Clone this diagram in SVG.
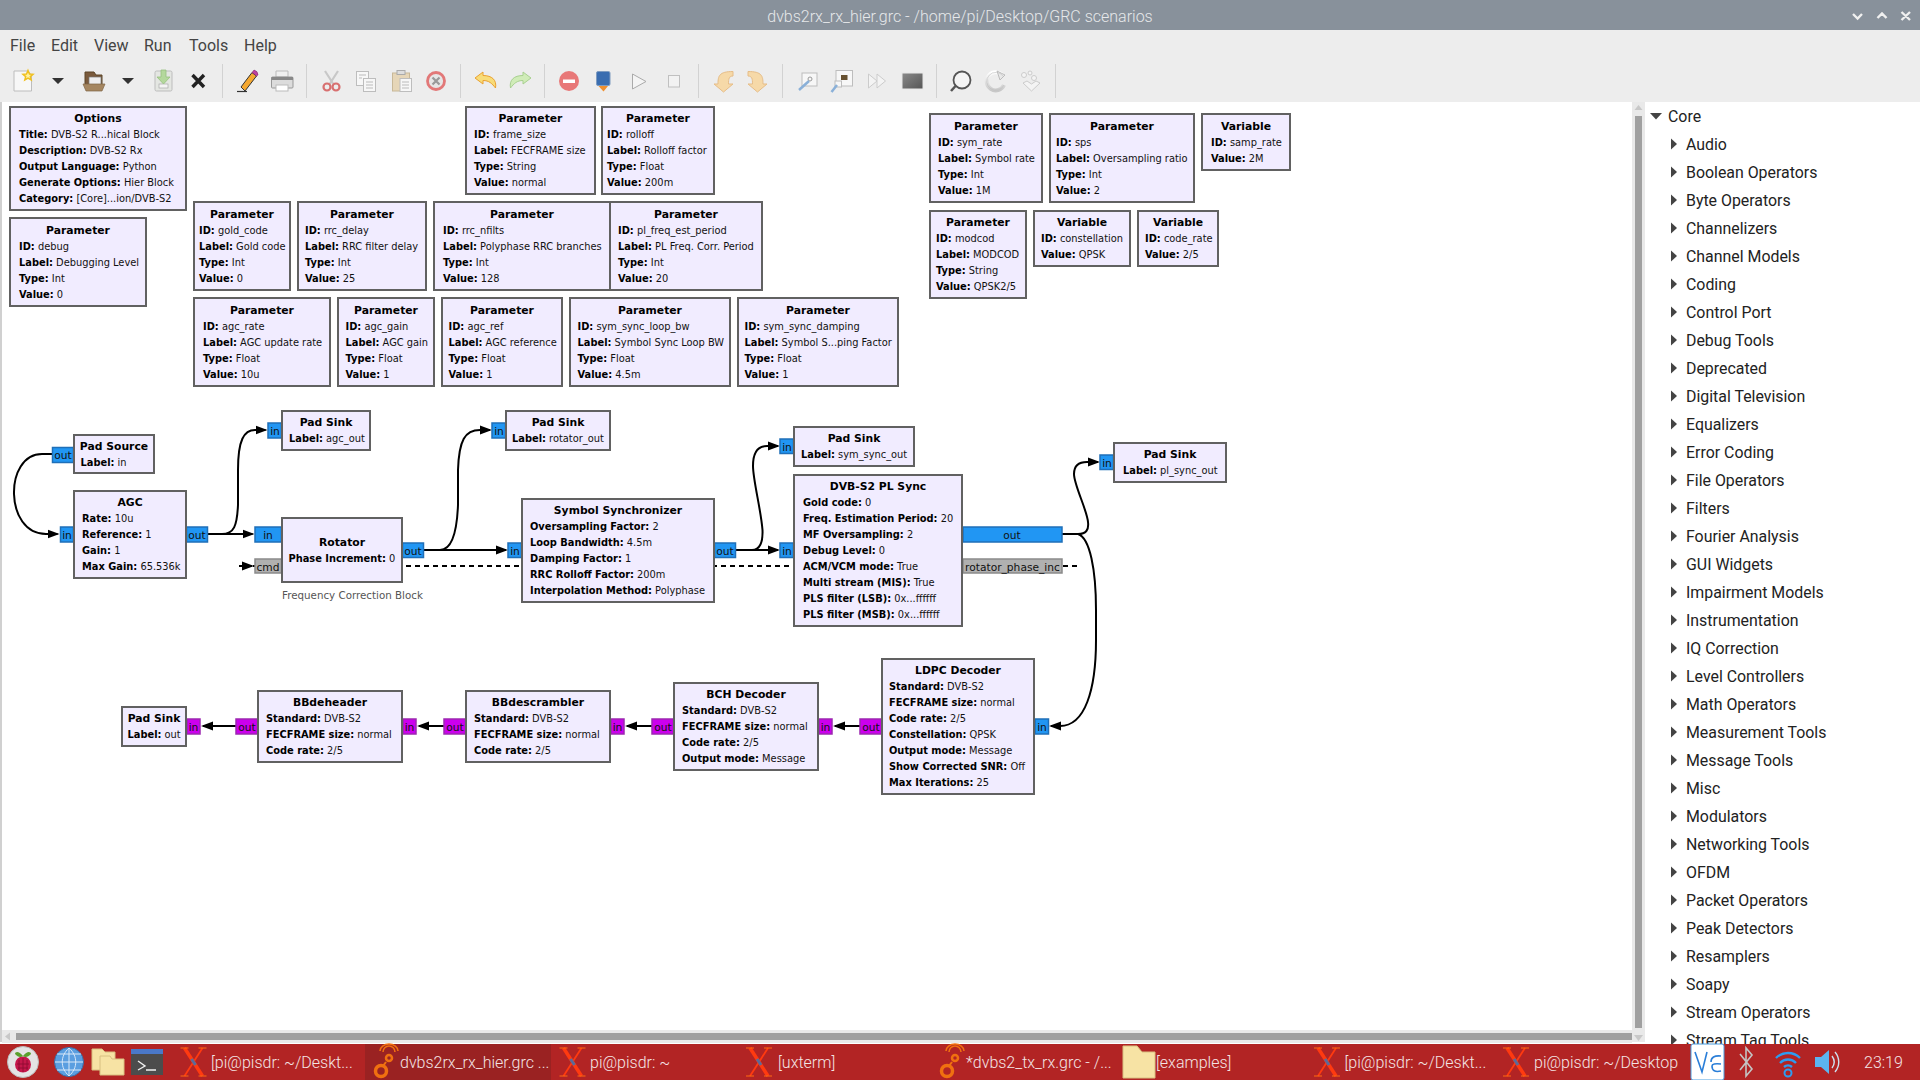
<svg xmlns="http://www.w3.org/2000/svg" xmlns:xlink="http://www.w3.org/1999/xlink" width="1920" height="1080" viewBox="0 0 1920 1080">
<style>
.n{fill:#f1ecff;stroke:#616161;stroke-width:2}
.t{font:bold 10.8px "DejaVu Sans",sans-serif;text-anchor:middle;fill:#000}
.l{font:9.85px "DejaVu Sans",sans-serif;fill:#111}
.k{font-weight:bold;fill:#000}
.pb{fill:#2196f3;stroke:#1f6fb8;stroke-width:1.5}
.pm{fill:#cc00ee;stroke:#9c27b0;stroke-width:1.5}
.pg{fill:#b0b0b0;stroke:#8a8a8a;stroke-width:1.5}
.p{font:10.67px "DejaVu Sans",sans-serif;text-anchor:middle;fill:#111}
.c{fill:none;stroke:#000;stroke-width:2}
.d{fill:none;stroke:#000;stroke-width:2;stroke-dasharray:5 4}
.m{font:16px Roboto,sans-serif;fill:#444}
.s{font:15.9px Roboto,sans-serif;fill:#222}
.b{font:300 16px Roboto,sans-serif;fill:#f4e4e4}
.sep{stroke:#d2d2d2;stroke-width:1}
.w{fill:none;stroke:#f0f0f0;stroke-width:2.4}
.tri{fill:#444}
.doc{fill:#f7f7f7;stroke:#bdbdbd}
</style>
<defs>
<marker id="a" markerUnits="userSpaceOnUse" markerWidth="12" markerHeight="10" refX="10" refY="5" orient="auto"><path d="M0,0.5 L12,5 L0,9.500 z" fill="#000"/></marker>
<linearGradient id="gi" x1="0" y1="0" x2="1" y2="1"><stop offset="0" stop-color="#8a8a8a"/><stop offset="1" stop-color="#555"/></linearGradient>
<linearGradient id="gr1" x1="0" y1="0" x2="0" y2="1"><stop offset="0" stop-color="#fff"/><stop offset="1" stop-color="#c8c8c8"/></linearGradient>
<path id="tr" class="tri" d="M0,-5.500 L6,0 L0,5.500 z"/>
<g id="xi" fill="none"><path d="M-9,-14 L9,14" stroke="#ff3a10" stroke-width="3.500"/><path d="M9,-14 L-9,14" stroke="#ff3a10" stroke-width="1.800"/><path d="M-2,-3 L2,3" stroke="#5a6a9a" stroke-width="3"/><path d="M-13,-14 H-5 M5,-14 H13 M-13,14 H-5 M5,14 H13" stroke="#ff6a10" stroke-width="1.200"/></g>
<g id="gr" fill="none" stroke="#f07010"><circle cx="-2" cy="9" r="5.500" stroke-width="3.500"/><circle cx="6" cy="-4" r="3" stroke-width="2.500"/><path d="M3,0 L0,4" stroke-width="2"/><path d="M0,-10 a6,6 0 0 1 12,0 M-3,-11 a9,7 0 0 1 18,0" stroke-width="1.600"/></g>
<g id="fo"><path d="M0,0 H14 L19,6 H32 V32 H0 z" fill="#f7e3a4" stroke="#d8c080"/></g>
</defs>

<rect width="1920" height="1080" fill="#fff"/>
<g id="titlebar">
<rect width="1920" height="30" fill="#88919b"/>
<text x="960" y="22" text-anchor="middle" style="font:300 16px Roboto,sans-serif;fill:#e6e8ea">dvbs2rx_rx_hier.grc - /home/pi/Desktop/GRC scenarios</text>
<path class="w" d="M1853,14 L1857.600,18.500 L1862,14 M1877.500,18 L1882,13.500 L1886.500,18 M1901.500,12 L1910,20 M1910,12 L1901.500,20"/>
</g>
<g id="menubar">
<rect y="30" width="1920" height="72" fill="#ededed"/>
<text class="m" x="10" y="51">File</text><text class="m" x="51" y="51">Edit</text><text class="m" x="94" y="51">View</text><text class="m" x="144" y="51">Run</text><text class="m" x="189" y="51">Tools</text><text class="m" x="244" y="51">Help</text>
</g>
<g id="toolbar">
<path d="M222.500,64 V98 M306.500,64 V98 M460.500,64 V98 M544.500,64 V98 M698.500,64 V98 M782.500,64 V98 M936.500,64 V98 M1055.500,64 V98" class="sep"/>
<path class="doc" d="M14,71 H28 L31.500,75 V91 H14 z"/><path d="M28,70.500 L29.500,74 L33,74.300 L30.300,76.600 L31.200,80 L28,78.200 L24.800,80 L25.700,76.600 L23,74.300 L26.500,74 z" fill="#fff3a0" stroke="#f0c020" stroke-width="1.500"/>
<path d="M52,78 H64 L58,84 z M122,78 H134 L128,84 z" fill="#333"/>
<path d="M85,72 H94 L96,75 H102 V86 H85 z" fill="#7a5a3c" stroke="#5c4526"/><rect x="89" y="77" width="12" height="9" fill="#eee" stroke="#777" stroke-width=".7"/><path d="M83,84 H105 L102,91 H86 z" fill="#a58660" stroke="#7f6445" stroke-width=".7"/>
<rect x="155" y="71" width="17" height="20" rx="1.500" fill="#e4e6e2" stroke="#bdbdbd"/><rect x="159" y="84" width="9" height="4" fill="#f4f4f4" stroke="#aaa" stroke-width=".7"/><path d="M161,70 H166 V77 H170 L163.500,84 L157,77 H161 z" fill="#b4d89c" stroke="#98c080" stroke-width=".8"/>
<path d="M192.500,75 L204,87 M204,75 L192.500,87" stroke="#222" stroke-width="3.400" fill="none"/>
<path d="M241,87 L252,72.500 L256.500,76 L245,91 z" fill="#f5a830" stroke="#333"/><path d="M252,72.500 L254,70 Q258,71 258,75 L256.500,76 z" fill="#c040a0" stroke="#702060" stroke-width=".5"/><path d="M237,91.500 H247" stroke="#333" stroke-width="1.200"/>
<path d="M276,71 H288 V77 H276 z" fill="#f0f0f0" stroke="#bbb"/><rect x="271.500" y="77" width="21.500" height="11" rx="1" fill="#dcdcdc" stroke="#999"/><rect x="271.500" y="77" width="21.500" height="3" fill="#888"/><rect x="276" y="85" width="12" height="6" fill="#fff" stroke="#bbb"/>
<path d="M325,71 L334,85 M338,71 L329,85" stroke="#c8c8c8" stroke-width="2.200" fill="none"/><circle cx="327" cy="87" r="3.500" fill="none" stroke="#d87070" stroke-width="2.200"/><circle cx="336" cy="87" r="3.500" fill="none" stroke="#d87070" stroke-width="2.200"/>
<rect class="doc" x="356.500" y="71.500" width="12" height="14"/><rect class="doc" x="363.500" y="78.500" width="12" height="13"/><path d="M359,75 H366 M359,78 H362 M366,82 H373 M366,85 H373 M366,88 H373" stroke="#bbb"/>
<rect x="392.500" y="73" width="17" height="18" fill="#e6d6b8" stroke="#c8b898"/><rect x="397" y="70.500" width="8" height="4" fill="#ddd" stroke="#aaa"/><rect class="doc" x="400" y="78.500" width="11.500" height="13"/><path d="M402,82 H409 M402,85 H409 M402,88 H409" stroke="#bbb"/>
<circle cx="436" cy="81" r="8.500" fill="#e6e6e6" stroke="#e27878" stroke-width="2.800"/><path d="M432.500,77.500 L439.500,84.500 M439.500,77.500 L432.500,84.500" stroke="#999" stroke-width="2.200"/>
<path d="M475,78 L483,72 V75.500 C492,75.500 497,80 495.500,88 C492,83.500 489,80.500 483,80.500 V84 z" fill="#f8dc78" stroke="#eaa030"/>
<path d="M531,78 L523,72 V75.500 C514,75.500 509,80 510.500,88 C514,83.500 517,80.500 523,80.500 V84 z" fill="#d0ecb8" stroke="#a8d090"/>
<circle cx="569" cy="81" r="10" fill="#e87878"/><rect x="563" y="79.500" width="12" height="3.500" fill="#fff"/>
<rect x="596.500" y="71.500" width="13.500" height="14" rx="1.500" fill="#3a6db0" stroke="#7f9cc0"/><path d="M598.500,86 H608 L603.500,91.500 z" fill="#f09030"/>
<path d="M632.500,74 L646,81.500 L632.500,89 z" fill="#f4f4f4" stroke="#aaa"/>
<rect x="668.500" y="75.500" width="11" height="11.500" fill="#f2f2f2" stroke="#c0c0c0"/>
<path d="M733,71.500 C719,71.500 718,76 718,84 H714 L723.500,92 L733,84 H728.500 C728.500,79 729,76 733,76 z" fill="#f6d9a8" stroke="#e6bd88"/>
<path d="M748,71.500 C762,71.500 763,76 763,84 H767 L757.500,92 L748,84 H752.500 C752.500,79 752,76 748,76 z" fill="#f6d9a8" stroke="#e6bd88"/>
<rect class="doc" x="802" y="73" width="15" height="13"/><circle cx="810" cy="79" r="2" fill="none" stroke="#999"/><path d="M809,81 L799,90" stroke="#8ab0d8" stroke-width="2.500"/>
<rect class="doc" x="836" y="70.500" width="16.500" height="15.500"/><rect x="841" y="75" width="6.500" height="5" fill="#665030"/><rect class="doc" x="835" y="81" width="6.500" height="6"/><path d="M837,85 L831.500,92" stroke="#8ab0d8" stroke-width="2.500"/>
<path d="M868.500,74 L877,81 L868.500,88 z M877,74 L885.500,81 L877,88 z" fill="#f4f4f4" stroke="#ccc"/>
<rect x="902" y="73" width="21" height="16" fill="url(#gi)" stroke="#e8e8e8"/>
<circle cx="962" cy="80" r="8.500" fill="#f4f4f4" stroke="#555" stroke-width="1.800"/><path d="M951,91 L956,85.500" stroke="#555" stroke-width="2.500"/>
<path d="M1003,76 A9,9 0 1 0 1004,85" fill="none" stroke="url(#gr1)" stroke-width="4"/><path d="M997,71 L1005,75 L1000,80 z" fill="#e8e8e8" stroke="#bbb"/><path d="M1003,76 A9,9 0 1 0 1004,85" fill="none" stroke="#c0c0c0" stroke-width=".6"/>
<circle cx="1024" cy="75" r="2.500" fill="#f4f4f4" stroke="#ccc"/><circle cx="1030" cy="73" r="2" fill="#f4f4f4" stroke="#ccc"/><circle cx="1034" cy="78" r="2.500" fill="#f4f4f4" stroke="#ccc"/><path d="M1023,83 L1027,81 L1031.500,84 L1036,81 L1040,83 L1031.500,91 z" fill="#f4f4f4" stroke="#ccc"/>
</g>
<rect x="0" y="102" width="2" height="940" fill="#d0d0d0"/>

<g id="connectors">
<path class="d" d="M1077,566 H243"/>
<path class="c" marker-end="url(#a)" d="M239,566 H252"/>
<path class="c" marker-end="url(#a)" d="M52,454 H42 C4,454 4,534 46,534 H57.500"/>
<path class="c" marker-end="url(#a)" d="M208,534 H222 C234,534 237,526 238,505 V470 C238,440 244,430 255,430 H265.500"/>
<path class="c" marker-end="url(#a)" d="M208,534 H252.500"/>
<path class="c" marker-end="url(#a)" d="M424,550 H440 C452,550 457,530 458,505 V470 C459,440 465,430 480,430 H490"/>
<path class="c" marker-end="url(#a)" d="M424,550 H506"/>
<path class="c" marker-end="url(#a)" d="M736,550 H752 C760,550 763,542 762.500,530 C761,510 753,480 753,466 C753,452 758,446 767,446 H778"/>
<path class="c" marker-end="url(#a)" d="M736,550 H778"/>
<path class="c" marker-end="url(#a)" d="M1062,534 H1078 C1086,534 1089,530 1088,522 C1087,510 1074,485 1074,474 C1074,465 1080,462 1087,462 H1098"/>
<path class="c" marker-end="url(#a)" d="M1078,534 C1090,538 1096,570 1096,610 V640 C1096,690 1085,726 1060,726 H1051"/>
<path class="c" marker-end="url(#a)" d="M860,726 H835"/>
<path class="c" marker-end="url(#a)" d="M652,726 H627"/>
<path class="c" marker-end="url(#a)" d="M444,726 H419"/>
<path class="c" marker-end="url(#a)" d="M236,726 H203"/>
</g>

<g id="options"><rect class="n" x="10" y="107" width="176" height="103"/><text class="t" x="98" y="122">Options</text>
<text class="l" x="19" y="138"><tspan class="k">Title:</tspan> DVB-S2 R...hical Block</text><text class="l" x="19" y="154"><tspan class="k">Description:</tspan> DVB-S2 Rx</text><text class="l" x="19" y="170"><tspan class="k">Output Language:</tspan> Python</text><text class="l" x="19" y="186"><tspan class="k">Generate Options:</tspan> Hier Block</text><text class="l" x="19" y="202"><tspan class="k">Category:</tspan> [Core]...ion/DVB-S2</text></g>
<g id="p_frame_size"><rect class="n" x="466" y="107" width="129" height="87"/><text class="t" x="530.500" y="122">Parameter</text>
<text class="l" x="474" y="138"><tspan class="k">ID:</tspan> frame_size</text><text class="l" x="474" y="154"><tspan class="k">Label:</tspan> FECFRAME size</text><text class="l" x="474" y="170"><tspan class="k">Type:</tspan> String</text><text class="l" x="474" y="186"><tspan class="k">Value:</tspan> normal</text></g>
<g id="p_rolloff"><rect class="n" x="602" y="107" width="112" height="87"/><text class="t" x="658" y="122">Parameter</text>
<text class="l" x="607" y="138"><tspan class="k">ID:</tspan> rolloff</text><text class="l" x="607" y="154"><tspan class="k">Label:</tspan> Rolloff factor</text><text class="l" x="607" y="170"><tspan class="k">Type:</tspan> Float</text><text class="l" x="607" y="186"><tspan class="k">Value:</tspan> 200m</text></g>
<g id="p_gold_code"><rect class="n" x="194" y="202" width="96" height="88"/><text class="t" x="242" y="218">Parameter</text>
<text class="l" x="199" y="234"><tspan class="k">ID:</tspan> gold_code</text><text class="l" x="199" y="250"><tspan class="k">Label:</tspan> Gold code</text><text class="l" x="199" y="266"><tspan class="k">Type:</tspan> Int</text><text class="l" x="199" y="282"><tspan class="k">Value:</tspan> 0</text></g>
<g id="p_rrc_delay"><rect class="n" x="298" y="202" width="128" height="88"/><text class="t" x="362" y="218">Parameter</text>
<text class="l" x="305" y="234"><tspan class="k">ID:</tspan> rrc_delay</text><text class="l" x="305" y="250"><tspan class="k">Label:</tspan> RRC filter delay</text><text class="l" x="305" y="266"><tspan class="k">Type:</tspan> Int</text><text class="l" x="305" y="282"><tspan class="k">Value:</tspan> 25</text></g>
<g id="p_rrc_nfilts"><rect class="n" x="434" y="202" width="176" height="88"/><text class="t" x="522" y="218">Parameter</text>
<text class="l" x="443" y="234"><tspan class="k">ID:</tspan> rrc_nfilts</text><text class="l" x="443" y="250"><tspan class="k">Label:</tspan> Polyphase RRC branches</text><text class="l" x="443" y="266"><tspan class="k">Type:</tspan> Int</text><text class="l" x="443" y="282"><tspan class="k">Value:</tspan> 128</text></g>
<g id="p_pl_freq_est_period"><rect class="n" x="610" y="202" width="152" height="88"/><text class="t" x="686" y="218">Parameter</text>
<text class="l" x="618" y="234"><tspan class="k">ID:</tspan> pl_freq_est_period</text><text class="l" x="618" y="250"><tspan class="k">Label:</tspan> PL Freq. Corr. Period</text><text class="l" x="618" y="266"><tspan class="k">Type:</tspan> Int</text><text class="l" x="618" y="282"><tspan class="k">Value:</tspan> 20</text></g>
<g id="p_debug"><rect class="n" x="10" y="218" width="136" height="88"/><text class="t" x="78" y="234">Parameter</text>
<text class="l" x="19" y="250"><tspan class="k">ID:</tspan> debug</text><text class="l" x="19" y="266"><tspan class="k">Label:</tspan> Debugging Level</text><text class="l" x="19" y="282"><tspan class="k">Type:</tspan> Int</text><text class="l" x="19" y="298"><tspan class="k">Value:</tspan> 0</text></g>
<g id="p_agc_rate"><rect class="n" x="194" y="298" width="136" height="88"/><text class="t" x="262" y="314">Parameter</text>
<text class="l" x="203" y="330"><tspan class="k">ID:</tspan> agc_rate</text><text class="l" x="203" y="346"><tspan class="k">Label:</tspan> AGC update rate</text><text class="l" x="203" y="362"><tspan class="k">Type:</tspan> Float</text><text class="l" x="203" y="378"><tspan class="k">Value:</tspan> 10u</text></g>
<g id="p_agc_gain"><rect class="n" x="338" y="298" width="96" height="88"/><text class="t" x="386" y="314">Parameter</text>
<text class="l" x="345.500" y="330"><tspan class="k">ID:</tspan> agc_gain</text><text class="l" x="345.500" y="346"><tspan class="k">Label:</tspan> AGC gain</text><text class="l" x="345.500" y="362"><tspan class="k">Type:</tspan> Float</text><text class="l" x="345.500" y="378"><tspan class="k">Value:</tspan> 1</text></g>
<g id="p_agc_ref"><rect class="n" x="442" y="298" width="120" height="88"/><text class="t" x="502" y="314">Parameter</text>
<text class="l" x="448.500" y="330"><tspan class="k">ID:</tspan> agc_ref</text><text class="l" x="448.500" y="346"><tspan class="k">Label:</tspan> AGC reference</text><text class="l" x="448.500" y="362"><tspan class="k">Type:</tspan> Float</text><text class="l" x="448.500" y="378"><tspan class="k">Value:</tspan> 1</text></g>
<g id="p_sym_sync_loop_bw"><rect class="n" x="570" y="298" width="160" height="88"/><text class="t" x="650" y="314">Parameter</text>
<text class="l" x="577.500" y="330"><tspan class="k">ID:</tspan> sym_sync_loop_bw</text><text class="l" x="577.500" y="346"><tspan class="k">Label:</tspan> Symbol Sync Loop BW</text><text class="l" x="577.500" y="362"><tspan class="k">Type:</tspan> Float</text><text class="l" x="577.500" y="378"><tspan class="k">Value:</tspan> 4.5m</text></g>
<g id="p_sym_sync_damping"><rect class="n" x="738" y="298" width="160" height="88"/><text class="t" x="818" y="314">Parameter</text>
<text class="l" x="744.500" y="330"><tspan class="k">ID:</tspan> sym_sync_damping</text><text class="l" x="744.500" y="346"><tspan class="k">Label:</tspan> Symbol S...ping Factor</text><text class="l" x="744.500" y="362"><tspan class="k">Type:</tspan> Float</text><text class="l" x="744.500" y="378"><tspan class="k">Value:</tspan> 1</text></g>
<g id="p_sym_rate"><rect class="n" x="930" y="114" width="112" height="88"/><text class="t" x="986" y="130">Parameter</text>
<text class="l" x="938" y="146"><tspan class="k">ID:</tspan> sym_rate</text><text class="l" x="938" y="162"><tspan class="k">Label:</tspan> Symbol rate</text><text class="l" x="938" y="178"><tspan class="k">Type:</tspan> Int</text><text class="l" x="938" y="194"><tspan class="k">Value:</tspan> 1M</text></g>
<g id="p_sps"><rect class="n" x="1050" y="114" width="144" height="88"/><text class="t" x="1122" y="130">Parameter</text>
<text class="l" x="1056" y="146"><tspan class="k">ID:</tspan> sps</text><text class="l" x="1056" y="162"><tspan class="k">Label:</tspan> Oversampling ratio</text><text class="l" x="1056" y="178"><tspan class="k">Type:</tspan> Int</text><text class="l" x="1056" y="194"><tspan class="k">Value:</tspan> 2</text></g>
<g id="v_samp_rate"><rect class="n" x="1202" y="114" width="88" height="56"/><text class="t" x="1246" y="130">Variable</text>
<text class="l" x="1211" y="146"><tspan class="k">ID:</tspan> samp_rate</text><text class="l" x="1211" y="162"><tspan class="k">Value:</tspan> 2M</text></g>
<g id="p_modcod"><rect class="n" x="930" y="211" width="96" height="87"/><text class="t" x="978" y="226">Parameter</text>
<text class="l" x="936" y="242"><tspan class="k">ID:</tspan> modcod</text><text class="l" x="936" y="258"><tspan class="k">Label:</tspan> MODCOD</text><text class="l" x="936" y="274"><tspan class="k">Type:</tspan> String</text><text class="l" x="936" y="290"><tspan class="k">Value:</tspan> QPSK2/5</text></g>
<g id="v_constellation"><rect class="n" x="1034" y="211" width="96" height="55"/><text class="t" x="1082" y="226">Variable</text>
<text class="l" x="1041" y="242"><tspan class="k">ID:</tspan> constellation</text><text class="l" x="1041" y="258"><tspan class="k">Value:</tspan> QPSK</text></g>
<g id="v_code_rate"><rect class="n" x="1138" y="211" width="80" height="55"/><text class="t" x="1178" y="226">Variable</text>
<text class="l" x="1145" y="242"><tspan class="k">ID:</tspan> code_rate</text><text class="l" x="1145" y="258"><tspan class="k">Value:</tspan> 2/5</text></g>

<g id="pad_source"><rect class="pb" x="52.500" y="447.500" width="21" height="15"/><text class="p" x="63" y="459">out</text><rect class="n" x="74" y="435" width="80" height="38"/><text class="t" x="114" y="450">Pad Source</text><text class="l" x="80.500" y="466"><tspan class="k">Label:</tspan> in</text></g>
<g id="agc"><rect class="pb" x="60.500" y="527" width="13" height="15"/><text class="p" x="67" y="539">in</text><rect class="pb" x="186.500" y="527" width="21" height="15"/><text class="p" x="197" y="539">out</text><rect class="n" x="74" y="491" width="112" height="87"/><text class="t" x="130" y="506">AGC</text>
<text class="l" x="82" y="522"><tspan class="k">Rate:</tspan> 10u</text><text class="l" x="82" y="538"><tspan class="k">Reference:</tspan> 1</text><text class="l" x="82" y="554"><tspan class="k">Gain:</tspan> 1</text><text class="l" x="82" y="570"><tspan class="k">Max Gain:</tspan> 65.536k</text></g>
<g id="pad_sink_agc_out"><rect class="pb" x="268" y="423" width="13.500" height="15"/><text class="p" x="275" y="435">in</text><rect class="n" x="282" y="411" width="88" height="39"/><text class="t" x="326" y="426">Pad Sink</text><text class="l" x="289" y="442"><tspan class="k">Label:</tspan> agc_out</text></g>
<g id="rotator"><rect class="pb" x="255" y="527" width="26.500" height="15"/><text class="p" x="268" y="539">in</text><rect class="pg" x="255" y="559" width="26.500" height="14"/><text class="p" x="268" y="571">cmd</text><rect class="pb" x="402.500" y="543" width="21" height="14.500"/><text class="p" x="413" y="555">out</text><rect class="n" x="282" y="518" width="120" height="64"/><text class="t" x="342" y="546">Rotator</text><text class="l" x="288.500" y="562"><tspan class="k">Phase Increment:</tspan> 0</text></g>
<text id="rotator_comment" x="282" y="599" style="font:10.3px 'DejaVu Sans',sans-serif;fill:#555">Frequency Correction Block</text>
<g id="pad_sink_rotator_out"><rect class="pb" x="492" y="423" width="13.500" height="15"/><text class="p" x="499" y="435">in</text><rect class="n" x="506" y="411" width="104" height="39"/><text class="t" x="558" y="426">Pad Sink</text><text class="l" x="512" y="442"><tspan class="k">Label:</tspan> rotator_out</text></g>
<g id="symbol_sync"><rect class="pb" x="508" y="543" width="13.500" height="14.500"/><text class="p" x="515" y="555">in</text><rect class="pb" x="714.500" y="543" width="21" height="14.500"/><text class="p" x="725" y="555">out</text><rect class="n" x="522" y="499" width="192" height="103"/><text class="t" x="618" y="514">Symbol Synchronizer</text>
<text class="l" x="530" y="530"><tspan class="k">Oversampling Factor:</tspan> 2</text><text class="l" x="530" y="546"><tspan class="k">Loop Bandwidth:</tspan> 4.5m</text><text class="l" x="530" y="562"><tspan class="k">Damping Factor:</tspan> 1</text><text class="l" x="530" y="578"><tspan class="k">RRC Rolloff Factor:</tspan> 200m</text><text class="l" x="530" y="594"><tspan class="k">Interpolation Method:</tspan> Polyphase</text></g>
<g id="pad_sink_sym_sync_out"><rect class="pb" x="780" y="439" width="13.500" height="14.500"/><text class="p" x="787" y="451">in</text><rect class="n" x="794" y="427" width="120" height="39"/><text class="t" x="854" y="442">Pad Sink</text><text class="l" x="801" y="458"><tspan class="k">Label:</tspan> sym_sync_out</text></g>
<g id="pl_sync"><rect class="pb" x="780" y="543" width="13.500" height="14.500"/><text class="p" x="787" y="555">in</text><rect class="pb" x="963" y="527" width="99" height="15"/><text class="p" x="1012" y="539">out</text><rect class="pg" x="963" y="559" width="99" height="14"/><text class="p" x="1012.500" y="571">rotator_phase_inc</text><rect class="n" x="794" y="475" width="168" height="151"/><text class="t" x="878" y="490">DVB-S2 PL Sync</text>
<text class="l" x="803" y="506"><tspan class="k">Gold code:</tspan> 0</text><text class="l" x="803" y="522"><tspan class="k">Freq. Estimation Period:</tspan> 20</text><text class="l" x="803" y="538"><tspan class="k">MF Oversampling:</tspan> 2</text><text class="l" x="803" y="554"><tspan class="k">Debug Level:</tspan> 0</text><text class="l" x="803" y="570"><tspan class="k">ACM/VCM mode:</tspan> True</text><text class="l" x="803" y="586"><tspan class="k">Multi stream (MIS):</tspan> True</text><text class="l" x="803" y="602"><tspan class="k">PLS filter (LSB):</tspan> 0x...ffffff</text><text class="l" x="803" y="618"><tspan class="k">PLS filter (MSB):</tspan> 0x...ffffff</text></g>
<g id="pad_sink_pl_sync_out"><rect class="pb" x="1100" y="455" width="13.500" height="14.500"/><text class="p" x="1107" y="467">in</text><rect class="n" x="1114" y="443" width="112" height="39"/><text class="t" x="1170" y="458">Pad Sink</text><text class="l" x="1123" y="474"><tspan class="k">Label:</tspan> pl_sync_out</text></g>
<g id="ldpc"><rect class="pb" x="1035" y="719" width="13.500" height="15"/><text class="p" x="1042" y="731">in</text><rect class="pm" x="860" y="719" width="21.500" height="15"/><text class="p" x="871" y="731">out</text><rect class="n" x="882" y="659" width="152" height="135"/><text class="t" x="958" y="674">LDPC Decoder</text>
<text class="l" x="889" y="690"><tspan class="k">Standard:</tspan> DVB-S2</text><text class="l" x="889" y="706"><tspan class="k">FECFRAME size:</tspan> normal</text><text class="l" x="889" y="722"><tspan class="k">Code rate:</tspan> 2/5</text><text class="l" x="889" y="738"><tspan class="k">Constellation:</tspan> QPSK</text><text class="l" x="889" y="754"><tspan class="k">Output mode:</tspan> Message</text><text class="l" x="889" y="770"><tspan class="k">Show Corrected SNR:</tspan> Off</text><text class="l" x="889" y="786"><tspan class="k">Max Iterations:</tspan> 25</text></g>
<g id="bch"><rect class="pm" x="819" y="719" width="13" height="15"/><text class="p" x="825.500" y="731">in</text><rect class="pm" x="652" y="719" width="21.500" height="15"/><text class="p" x="663" y="731">out</text><rect class="n" x="674" y="683" width="144" height="87"/><text class="t" x="746" y="698">BCH Decoder</text>
<text class="l" x="682" y="714"><tspan class="k">Standard:</tspan> DVB-S2</text><text class="l" x="682" y="730"><tspan class="k">FECFRAME size:</tspan> normal</text><text class="l" x="682" y="746"><tspan class="k">Code rate:</tspan> 2/5</text><text class="l" x="682" y="762"><tspan class="k">Output mode:</tspan> Message</text></g>
<g id="bbdescrambler"><rect class="pm" x="611" y="719" width="13" height="15"/><text class="p" x="617.500" y="731">in</text><rect class="pm" x="444" y="719" width="21.500" height="15"/><text class="p" x="455" y="731">out</text><rect class="n" x="466" y="691" width="144" height="71"/><text class="t" x="538" y="706">BBdescrambler</text>
<text class="l" x="474" y="722"><tspan class="k">Standard:</tspan> DVB-S2</text><text class="l" x="474" y="738"><tspan class="k">FECFRAME size:</tspan> normal</text><text class="l" x="474" y="754"><tspan class="k">Code rate:</tspan> 2/5</text></g>
<g id="bbdeheader"><rect class="pm" x="403" y="719" width="13" height="15"/><text class="p" x="409.500" y="731">in</text><rect class="pm" x="236" y="719" width="21.500" height="15"/><text class="p" x="247" y="731">out</text><rect class="n" x="258" y="691" width="144" height="71"/><text class="t" x="330" y="706">BBdeheader</text>
<text class="l" x="266" y="722"><tspan class="k">Standard:</tspan> DVB-S2</text><text class="l" x="266" y="738"><tspan class="k">FECFRAME size:</tspan> normal</text><text class="l" x="266" y="754"><tspan class="k">Code rate:</tspan> 2/5</text></g>
<g id="pad_sink_out"><rect class="pm" x="187" y="719" width="13" height="15"/><text class="p" x="193.500" y="731">in</text><rect class="n" x="122" y="707" width="64" height="39"/><text class="t" x="154" y="722">Pad Sink</text><text class="l" x="127.500" y="738"><tspan class="k">Label:</tspan> out</text></g>

<g id="scrollbars">
<rect x="1632" y="102" width="13" height="940" fill="#e9e9e9"/>
<path d="M1638.500,105 L1642.500,110 H1634.500 z" fill="#c8c8c8"/>
<rect x="1635" y="116" width="7" height="912" fill="#a0a0a0"/>
<rect x="2" y="1030" width="1630" height="13" fill="#e9e9e9"/>
<rect x="16" y="1033" width="1616" height="7" fill="#a0a0a0"/>
<path d="M5,1036.500 L10,1032.500 V1040.500 z" fill="#c8c8c8"/>
<path d="M1638.500,1041 L1634,1035 H1643 z" fill="#c8c8c8"/>
</g>
<g id="sidebar">
<rect x="1645" y="102" width="275" height="942" fill="#fff"/>
<path d="M1650,113 H1662 L1656,119.500 z" fill="#444"/>
<text class="s" x="1668" y="122">Core</text>
<use href="#tr" x="1671" y="144"/><text class="s" x="1686" y="150">Audio</text>
<use href="#tr" x="1671" y="172"/><text class="s" x="1686" y="178">Boolean Operators</text>
<use href="#tr" x="1671" y="200"/><text class="s" x="1686" y="206">Byte Operators</text>
<use href="#tr" x="1671" y="228"/><text class="s" x="1686" y="234">Channelizers</text>
<use href="#tr" x="1671" y="256"/><text class="s" x="1686" y="262">Channel Models</text>
<use href="#tr" x="1671" y="284"/><text class="s" x="1686" y="290">Coding</text>
<use href="#tr" x="1671" y="312"/><text class="s" x="1686" y="318">Control Port</text>
<use href="#tr" x="1671" y="340"/><text class="s" x="1686" y="346">Debug Tools</text>
<use href="#tr" x="1671" y="368"/><text class="s" x="1686" y="374">Deprecated</text>
<use href="#tr" x="1671" y="396"/><text class="s" x="1686" y="402">Digital Television</text>
<use href="#tr" x="1671" y="424"/><text class="s" x="1686" y="430">Equalizers</text>
<use href="#tr" x="1671" y="452"/><text class="s" x="1686" y="458">Error Coding</text>
<use href="#tr" x="1671" y="480"/><text class="s" x="1686" y="486">File Operators</text>
<use href="#tr" x="1671" y="508"/><text class="s" x="1686" y="514">Filters</text>
<use href="#tr" x="1671" y="536"/><text class="s" x="1686" y="542">Fourier Analysis</text>
<use href="#tr" x="1671" y="564"/><text class="s" x="1686" y="570">GUI Widgets</text>
<use href="#tr" x="1671" y="592"/><text class="s" x="1686" y="598">Impairment Models</text>
<use href="#tr" x="1671" y="620"/><text class="s" x="1686" y="626">Instrumentation</text>
<use href="#tr" x="1671" y="648"/><text class="s" x="1686" y="654">IQ Correction</text>
<use href="#tr" x="1671" y="676"/><text class="s" x="1686" y="682">Level Controllers</text>
<use href="#tr" x="1671" y="704"/><text class="s" x="1686" y="710">Math Operators</text>
<use href="#tr" x="1671" y="732"/><text class="s" x="1686" y="738">Measurement Tools</text>
<use href="#tr" x="1671" y="760"/><text class="s" x="1686" y="766">Message Tools</text>
<use href="#tr" x="1671" y="788"/><text class="s" x="1686" y="794">Misc</text>
<use href="#tr" x="1671" y="816"/><text class="s" x="1686" y="822">Modulators</text>
<use href="#tr" x="1671" y="844"/><text class="s" x="1686" y="850">Networking Tools</text>
<use href="#tr" x="1671" y="872"/><text class="s" x="1686" y="878">OFDM</text>
<use href="#tr" x="1671" y="900"/><text class="s" x="1686" y="906">Packet Operators</text>
<use href="#tr" x="1671" y="928"/><text class="s" x="1686" y="934">Peak Detectors</text>
<use href="#tr" x="1671" y="956"/><text class="s" x="1686" y="962">Resamplers</text>
<use href="#tr" x="1671" y="984"/><text class="s" x="1686" y="990">Soapy</text>
<use href="#tr" x="1671" y="1012"/><text class="s" x="1686" y="1018">Stream Operators</text>
<use href="#tr" x="1671" y="1040"/><text class="s" x="1686" y="1046">Stream Tag Tools</text>
</g>
<g id="taskbar">
<rect y="1044" width="1920" height="36" fill="#b22424"/>
<rect x="365" y="1044" width="186" height="36" fill="#9a2222"/>
<circle cx="23" cy="1062" r="15.500" fill="#e4e4e4" stroke="#bbb"/><circle cx="23" cy="1064.500" r="8" fill="#c4174a"/><path d="M23,1056 C19,1050.500 15,1051.500 15,1054 C18,1057.500 21,1057.500 23,1056 C25,1057.500 28,1057.500 31,1054 C31,1051.500 27,1050.500 23,1056" fill="#5aa02c"/><path d="M17,1064 H29 M19,1060 V1070 M23,1058 V1072 M27,1060 V1070 M18,1068 H28" stroke="#8a0a30" stroke-width=".8"/>
<circle cx="69" cy="1062" r="14.500" fill="#5a9ee0" stroke="#3a70a8"/><path d="M55,1062 H83 M57,1054 H81 M57,1070 H81 M69,1048 V1076 M69,1048 C60,1056 60,1068 69,1076 M69,1048 C78,1056 78,1068 69,1076" fill="none" stroke="#d8e8f8" stroke-width="1"/>
<path d="M92,1049 H102 L105,1052 H115 V1070 H92 z" fill="#f7e3a4" stroke="#d8c080"/><path d="M100,1056 H110 L112,1059 H124 V1075 H100 z" fill="#f7e3a4" stroke="#d8c080"/>
<rect x="131" y="1049" width="32" height="26" fill="#4c4c4c"/><rect x="131" y="1049" width="32" height="5" fill="#4a78c8"/><path d="M138,1061 L145,1066 L138,1070 M146,1070 H156" fill="none" stroke="#f0f0f0" stroke-width="1.400"/>
<use href="#xi" x="193.500" y="1062"/><text class="b" x="211" y="1068">[pi@pisdr: ~/Deskt...</text>
<use href="#gr" x="383" y="1062"/><text class="b" x="400" y="1068">dvbs2rx_rx_hier.grc ...</text>
<use href="#xi" x="572.500" y="1062"/><text class="b" x="590" y="1068">pi@pisdr: ~</text>
<use href="#xi" x="759" y="1062"/><text class="b" x="778" y="1068">[uxterm]</text>
<use href="#gr" x="949" y="1062"/><text class="b" x="966" y="1068">*dvbs2_tx_rx.grc - /...</text>
<use href="#fo" x="1123" y="1046"/><text class="b" x="1156" y="1068">[examples]</text>
<use href="#xi" x="1327" y="1062"/><text class="b" x="1344.500" y="1068">[pi@pisdr: ~/Deskt...</text>
<use href="#xi" x="1516" y="1062"/><text class="b" x="1534" y="1068">pi@pisdr: ~/Desktop</text>
<rect x="1691" y="1044" width="33" height="36" rx="2" fill="#fff" stroke="#4a9ee0"/><path d="M1695,1052 L1702,1072 L1707,1052 M1721,1056 Q1711,1055 1711,1062 M1721,1071 Q1712,1073 1712,1066 Q1712,1063 1721,1064" fill="none" stroke="#2a7ed8" stroke-width="1.600"/>
<path d="M1740,1054 L1752,1069 L1746,1076 V1048 L1752,1055 L1740,1070" fill="none" stroke="#c4c4c4" stroke-width="1.600"/>
<path d="M1776,1058 A17,17 0 0 1 1800,1058 M1780,1063 A11,11 0 0 1 1796,1063 M1784,1067 A6,6 0 0 1 1792,1067" fill="none" stroke="#2d9cf0" stroke-width="2.400"/><circle cx="1788" cy="1073" r="3.500" fill="none" stroke="#2d9cf0" stroke-width="2"/>
<path d="M1815,1057 H1821 L1829,1050 V1074 L1821,1067 H1815 z" fill="#5cb4f0"/><path d="M1832,1056 C1835,1060 1835,1064 1832,1068 M1835,1052 C1840,1058 1840,1066 1835,1072" fill="none" stroke="#cfe0ee" stroke-width="1.400"/>
<text class="b" x="1864" y="1068">23:19</text>
</g>
</svg>
